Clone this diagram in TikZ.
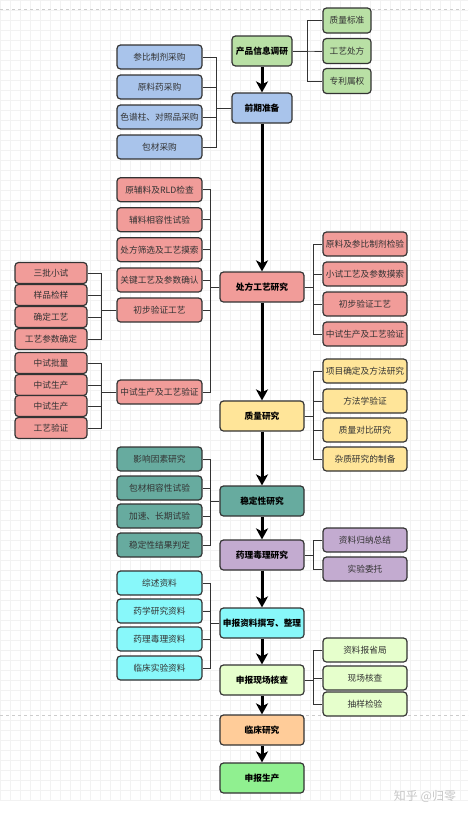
\documentclass[tikz,border=0pt]{standalone}
\usepackage{fontspec}
\setmainfont{Noto Sans CJK SC}
\usetikzlibrary{arrows.meta, positioning}
\definecolor{edgegray}{RGB}{51,51,51}
\definecolor{gridgray}{RGB}{242,242,242}
\definecolor{cgreen}{RGB}{185,224,165}
\definecolor{cblue}{RGB}{169,196,235}
\definecolor{csalmon}{RGB}{241,156,153}
\definecolor{cyellow}{RGB}{255,229,153}
\definecolor{cteal}{RGB}{103,171,159}
\definecolor{cpurple}{RGB}{195,171,208}
\definecolor{ccyan}{RGB}{136,248,250}
\definecolor{clime}{RGB}{230,255,204}
\definecolor{corange}{RGB}{255,204,153}
\definecolor{cmint}{RGB}{144,240,144}

\begin{document}
\begin{tikzpicture}[x=1pt, y=-1pt,
  every node/.style={font=\fontsize{8.7}{10}\selectfont, inner sep=0pt},
  box/.style={draw=edgegray, line width=1.2pt, rounded corners=3.5pt, text=black!80},
  stage/.style={box, font=\fontsize{8.7}{10}\selectfont\bfseries, text=black,
                minimum width=84pt, minimum height=30pt},
  sub/.style={box, minimum width=85pt, minimum height=24pt},
  leaf/.style={box, minimum width=72pt, minimum height=21pt},
  br/.style={draw=edgegray, line width=0.9pt},
  flow/.style={line width=3pt, -{Stealth[length=11pt, width=12pt, inset=3pt]}}
]
\useasboundingbox (0,0) rectangle (474,814);
% background grid of the drawing page
\draw[gridgray, line width=0.4pt, step=10pt] (0,0) grid (468,800);
\draw[gray!40, dashed, line width=0.5pt] (0,9) -- (468,9);
\draw[gray!40, dashed, line width=0.5pt] (0,715) -- (468,715);

% main stages
\node[stage, fill=cgreen, minimum width=60pt] (info) at (262,51) {产品信息调研};
\node[stage, fill=cblue, minimum width=60pt] (prep) at (262,108) {前期准备};
\node[stage, fill=csalmon] (form) at (262,287) {处方工艺研究};
\node[stage, fill=cyellow] (qual) at (262,416) {质量研究};
\node[stage, fill=cteal] (stab) at (262,501) {稳定性研究};
\node[stage, fill=cpurple] (phar) at (262,555) {药理毒理研究};
\node[stage, fill=ccyan] (subm) at (262,623) {申报资料撰写、整理};
\node[stage, fill=clime] (insp) at (262,680) {申报现场核查};
\node[stage, fill=corange] (clin) at (262,730) {临床研究};
\node[stage, fill=cmint] (prod) at (262,778) {申报生产};

\foreach \a/\b in {info/prep, prep/form, form/qual, qual/stab, stab/phar,
                   phar/subm, subm/insp, insp/clin, clin/prod}
  \draw[flow] (\a.south) -- (\b.north);

% right branches
\foreach \n/\y/\t in {1/20.5/质量标准, 2/51/工艺处方, 3/81/专利属权}{
  \node[box, fill=cgreen, minimum width=48pt, minimum height=25pt] (info\n) at (347,\y) {\t};
  \draw[br] (info.east) -- ++(15,0) |- (info\n.west);
}
\foreach \n/\y/\t in {1/244/原料及参比制剂检验, 2/274/小试工艺及参数摸索,
                      3/304/初步验证工艺, 4/334/中试生产及工艺验证}{
  \node[sub, fill=csalmon, minimum width=84pt] (formr\n) at (365,\y) {\t};
  \draw[br] (form.east) -- ++(9,0) |- (formr\n.west);
}
\foreach \n/\y/\t in {1/371/项目确定及方法研究, 2/401/方法学验证,
                      3/430/质量对比研究, 4/459/杂质研究的制备}{
  \node[sub, fill=cyellow, minimum width=84pt] (qualr\n) at (365,\y) {\t};
  \draw[br] (qual.east) -- ++(9,0) |- (qualr\n.west);
}
\foreach \n/\y/\t in {1/540/资料归纳总结, 2/569/实验委托}{
  \node[sub, fill=cpurple, minimum width=84pt] (pharr\n) at (365,\y) {\t};
  \draw[br] (phar.east) -- ++(9,0) |- (pharr\n.west);
}
\foreach \n/\y/\t in {1/650/资料报省局, 2/678/现场核查, 3/704/抽样检验}{
  \node[sub, fill=clime, minimum width=84pt] (inspr\n) at (365,\y) {\t};
  \draw[br] (insp.east) -- ++(9,0) |- (inspr\n.west);
}

% left branches
\foreach \n/\y/\t in {1/57/参比制剂采购, 2/87/原料药采购,
                      3/117/色谱柱、对照品采购, 4/147/包材采购}{
  \node[sub, fill=cblue] (prepl\n) at (159.5,\y) {\t};
  \draw[br] (prep.west) -- ++(-15,0) |- (prepl\n.east);
}
\foreach \n/\y/\t in {1/189.7/原辅料及RLD检查, 2/219.7/辅料相容性试验,
                      3/249.7/处方筛选及工艺摸索, 4/280/关键工艺及参数确认,
                      5/310/初步验证工艺, 6/392/中试生产及工艺验证}{
  \node[sub, fill=csalmon] (forml\n) at (159.5,\y) {\t};
  \draw[br] (form.west) -- ++(-9,0) |- (forml\n.east);
}
\foreach \n/\y/\t in {1/273/三批小试, 2/295/样品检样, 3/317/确定工艺, 4/339/工艺参数确定}{
  \node[leaf, fill=csalmon] (trial\n) at (51,\y) {\t};
  \draw[br] (forml5.west) -- ++(-15,0) |- (trial\n.east);
}
\foreach \n/\y/\t in {1/363/中试批量, 2/385/中试生产, 3/406/中试生产, 4/428/工艺验证}{
  \node[leaf, fill=csalmon] (pilot\n) at (51,\y) {\t};
  \draw[br] (forml6.west) -- ++(-15,0) |- (pilot\n.east);
}
\foreach \n/\y/\t in {1/459/影响因素研究, 2/488/包材相容性试验,
                      3/516/加速、长期试验, 4/545/稳定性结果判定}{
  \node[sub, fill=cteal] (stabl\n) at (159.5,\y) {\t};
  \draw[br] (stab.west) -- ++(-9,0) |- (stabl\n.east);
}
\foreach \n/\y/\t in {1/583/综述资料, 2/611/药学研究资料,
                      3/639/药理毒理资料, 4/668/临床实验资料}{
  \node[sub, fill=ccyan] (subml\n) at (159.5,\y) {\t};
  \draw[br] (subm.west) -- ++(-9,0) |- (subml\n.east);
}

\node[font=\fontsize{12}{14}\selectfont, text=gray!45] (mark) at (425,796) {知乎 @归零};
\end{tikzpicture}
\end{document}
